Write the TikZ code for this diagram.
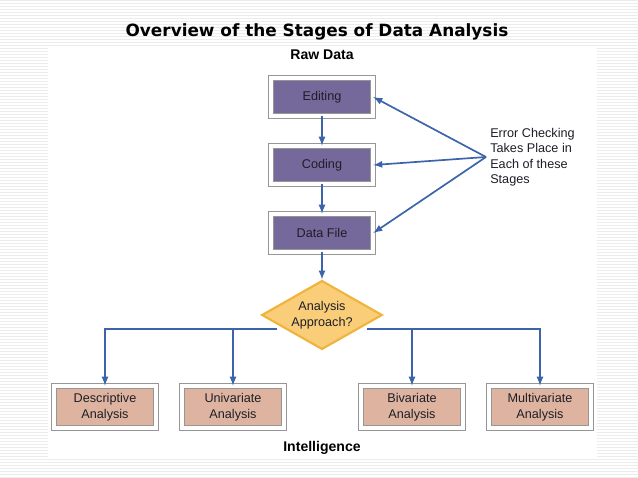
\documentclass[tikz,border=0pt]{standalone}
\usepackage{fontspec}
\setmainfont{Liberation Sans}
\newfontfamily\titlefont{DejaVu Sans}
\usetikzlibrary{shapes.geometric}
\definecolor{stagePurple}{RGB}{117,104,155}
\definecolor{frameGray}{RGB}{150,150,150}
\definecolor{arrowBlue}{RGB}{60,100,170}
\definecolor{boxSalmon}{RGB}{222,180,160}
\definecolor{diaOrange}{RGB}{240,180,60}
\definecolor{diaFill}{RGB}{250,205,120}
\definecolor{textDark}{RGB}{30,30,40}
\begin{document}
\begin{tikzpicture}[x=0.025cm,y=-0.025cm,
  stage/.style={rectangle,fill=stagePurple,draw=frameGray,double=white,double distance=3.5pt,
    minimum width=2.55cm,minimum height=0.95cm,font=\small,text=textDark,align=center},
  result/.style={stage,fill=boxSalmon,minimum height=1.05cm},
  flow/.style={draw=arrowBlue,line width=1.2pt,-latex}]
\useasboundingbox (0,0) rectangle (638,478);
% striped slide background
\foreach \yy in {0,3,...,478}
  \draw[gray!15,line width=0.6pt] (0,\yy) -- (638,\yy);
\fill[white] (48,48) rectangle (597,457);
\node[font=\titlefont\bfseries\large] (title) at (317,32) {Overview of the Stages of Data Analysis};

\node[font=\bfseries] (raw) at (322,55) {Raw Data};
\node[stage] (edit) at (322,97) {Editing};
\node[stage] (code) at (322,165) {Coding};
\node[stage] (file) at (322,233) {Data File};
\node[diamond,fill=diaFill,draw=diaOrange,line width=1.5pt,aspect=1.75,inner sep=1.5pt,
  font=\small,text=textDark,align=center] (appr) at (322,315) {Analysis\\Approach?};

\node[result] (desc) at (105,407) {Descriptive\\Analysis};
\node[result] (univ) at (233,407) {Univariate\\Analysis};
\node[result] (biv) at (412,407) {Bivariate\\Analysis};
\node[result] (multi) at (540,407) {Multivariate\\Analysis};
\node[font=\bfseries] (intel) at (322,448) {Intelligence};

\node[font=\small,align=left,anchor=west,text=textDark,inner sep=0pt] (err) at (490,157)
  {Error Checking\\Takes Place in\\Each of these\\Stages};
\coordinate (errpt) at (486,157);
\coordinate (splitL) at (277,329);
\coordinate (splitR) at (367,329);

\draw[flow] (edit) -- (code);
\draw[flow] (code) -- (file);
\draw[flow] (file) -- (appr);
\draw[flow] (errpt) -- (edit.east);
\draw[flow] (errpt) -- (code.east);
\draw[flow] (errpt) -- (file.east);
\draw[flow] (splitL) -| (desc.north);
\draw[flow] (splitL) -| (univ.north);
\draw[flow] (splitR) -| (biv.north);
\draw[flow] (splitR) -| (multi.north);
\end{tikzpicture}
\end{document}
